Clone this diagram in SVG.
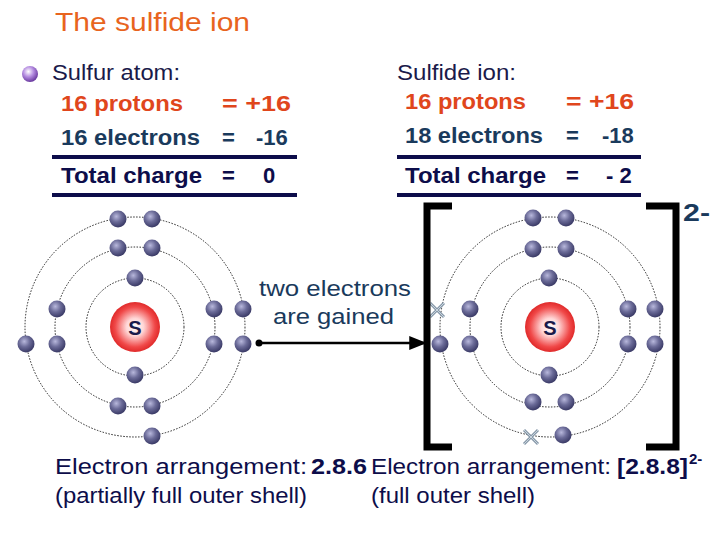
<svg xmlns="http://www.w3.org/2000/svg" width="720" height="540" viewBox="0 0 720 540">
<defs>
<radialGradient id="eg" cx="40%" cy="35%" r="65%"><stop offset="0" stop-color="#b8b8dc"/><stop offset="0.5" stop-color="#6b6b98"/><stop offset="1" stop-color="#3a3a66"/></radialGradient>
<radialGradient id="ng" cx="50%" cy="50%" r="50%"><stop offset="0" stop-color="#ffffff"/><stop offset="0.35" stop-color="#ffd6d6"/><stop offset="0.8" stop-color="#f04848"/><stop offset="1" stop-color="#e02a2a"/></radialGradient>
<radialGradient id="bg" cx="40%" cy="35%" r="65%"><stop offset="0" stop-color="#ffffff"/><stop offset="0.5" stop-color="#b48ce0"/><stop offset="1" stop-color="#6a3aa0"/></radialGradient>
<marker id="ah" viewBox="0 0 10 10" refX="9" refY="5" markerWidth="7" markerHeight="7" orient="auto"><path d="M0,1 L10,5 L0,9 Z" fill="#000"/></marker>
<g id="e"><circle r="8.5" fill="url(#eg)"/></g>
<g id="x"><path d="M-7,-7 L7,7 M-7,7 L7,-7" stroke="#8899aa" stroke-width="3"/><path d="M-7,-7 L7,7 M-7,7 L7,-7" stroke="#c8d4dc" stroke-width="1"/></g>
</defs>
<style>
text{font-family:"Liberation Sans",Arial,sans-serif}
.t{font-size:22px}
.p{fill:#e0461c;font-weight:bold}
.el{fill:#1a3a5c;font-weight:bold}
.tc{fill:#0d0d4a;font-weight:bold}
.h{fill:#1a1a4a}
.orb{fill:none;stroke:#222;stroke-width:1;stroke-dasharray:1.5 1.5}
.rule{stroke:#0d0d4a;stroke-width:4}
.br{fill:none;stroke:#000;stroke-width:7}
</style>
<text x="55" y="31" font-size="25" fill="#e8641e" textLength="195" lengthAdjust="spacingAndGlyphs">The sulfide ion</text>
<circle cx="30" cy="74" r="8" fill="url(#bg)"/>
<g id="left-text" class="t" lengthAdjust="spacingAndGlyphs">
<text x="52" y="80" class="h" textLength="128" lengthAdjust="spacingAndGlyphs">Sulfur atom:</text>
<text x="61" y="111" class="p" textLength="122" lengthAdjust="spacingAndGlyphs">16 protons</text><text x="222" y="111" class="p" textLength="69" lengthAdjust="spacingAndGlyphs">=  +16</text>
<text x="61" y="145" class="el" textLength="139" lengthAdjust="spacingAndGlyphs">16 electrons</text><text x="222" y="145" class="el">=</text><text x="256" y="145" class="el">-16</text>
<text x="61" y="183" class="tc" textLength="141" lengthAdjust="spacingAndGlyphs">Total charge</text><text x="222" y="183" class="tc">=</text><text x="263" y="183" class="tc">0</text>
</g>
<line x1="52" y1="157" x2="297" y2="157" class="rule"/>
<line x1="52" y1="195" x2="297" y2="195" class="rule"/>
<g id="right-text" class="t">
<text x="397" y="80" class="h" textLength="119" lengthAdjust="spacingAndGlyphs">Sulfide ion:</text>
<text x="405" y="109" class="p" textLength="121" lengthAdjust="spacingAndGlyphs">16 protons</text><text x="566" y="109" class="p" textLength="68" lengthAdjust="spacingAndGlyphs">=  +16</text>
<text x="405" y="143" class="el" textLength="138" lengthAdjust="spacingAndGlyphs">18 electrons</text><text x="566" y="143" class="el">=</text><text x="602" y="143" class="el">-18</text>
<text x="405" y="183" class="tc" textLength="141" lengthAdjust="spacingAndGlyphs">Total charge</text><text x="566" y="183" class="tc">=</text><text x="606" y="183" class="tc">- 2</text>
</g>
<line x1="397" y1="157" x2="641" y2="157" class="rule"/>
<line x1="397" y1="195" x2="641" y2="195" class="rule"/>
<g id="atom">
<circle cx="135" cy="327" r="49" class="orb"/><circle cx="135" cy="327" r="80" class="orb"/><circle cx="135" cy="327" r="110" class="orb"/>
<circle cx="135" cy="327" r="25" fill="url(#ng)"/>
<text x="135" y="335" font-size="20" font-weight="bold" fill="#1a1a4a" text-anchor="middle">S</text>
<use href="#e" x="135" y="278"/><use href="#e" x="135" y="375"/>
<use href="#e" x="118" y="248"/><use href="#e" x="152" y="248"/><use href="#e" x="57" y="309"/><use href="#e" x="57" y="344"/><use href="#e" x="214" y="309"/><use href="#e" x="214" y="344"/><use href="#e" x="118" y="406"/><use href="#e" x="152" y="406"/>
<use href="#e" x="118" y="219"/><use href="#e" x="152" y="219"/><use href="#e" x="26" y="344"/><use href="#e" x="243" y="309"/><use href="#e" x="243" y="344"/><use href="#e" x="152" y="436"/>
</g>
<g id="ion">
<circle cx="550" cy="327" r="49" class="orb"/><circle cx="550" cy="327" r="80" class="orb"/><circle cx="550" cy="327" r="110" class="orb"/>
<circle cx="550" cy="327" r="25" fill="url(#ng)"/>
<text x="550" y="335" font-size="20" font-weight="bold" fill="#1a1a4a" text-anchor="middle">S</text>
<use href="#e" x="549" y="278"/><use href="#e" x="549" y="375"/>
<use href="#e" x="533" y="249"/><use href="#e" x="566" y="249"/><use href="#e" x="470" y="309"/><use href="#e" x="470" y="344"/><use href="#e" x="628" y="309"/><use href="#e" x="628" y="344"/><use href="#e" x="533" y="402"/><use href="#e" x="566" y="402"/>
<use href="#e" x="533" y="218"/><use href="#e" x="566" y="218"/><use href="#x" x="437" y="310"/><use href="#e" x="440" y="344"/><use href="#e" x="655" y="309"/><use href="#e" x="655" y="344"/><use href="#x" x="531" y="437"/><use href="#e" x="563" y="435"/>
<path d="M452,206 H427 V447 H452" class="br"/>
<path d="M646,206 H676 V447 H646" class="br"/>
<text x="683" y="221" font-size="23" font-weight="bold" fill="#1a3a5c" textLength="27" lengthAdjust="spacingAndGlyphs">2-</text>
</g>
<g id="connectors">
<circle cx="259" cy="343" r="3.5" fill="#000"/>
<line x1="259" y1="343" x2="425" y2="343" stroke="#000" stroke-width="2.5" marker-end="url(#ah)"/>
</g>
<text x="259" y="296" font-size="22" fill="#1a3a5c" textLength="152" lengthAdjust="spacingAndGlyphs">two electrons</text>
<text x="273" y="324" font-size="22" fill="#1a3a5c" textLength="121" lengthAdjust="spacingAndGlyphs">are gained</text>
<g id="bottom" font-size="22" fill="#0d0d4a">
<text x="55" y="474" textLength="252" lengthAdjust="spacingAndGlyphs">Electron arrangement:</text>
<text x="311" y="474" font-weight="bold" textLength="56" lengthAdjust="spacingAndGlyphs">2.8.6</text>
<text x="55" y="503" textLength="252" lengthAdjust="spacingAndGlyphs">(partially full outer shell)</text>
<text x="371" y="474" textLength="240" lengthAdjust="spacingAndGlyphs">Electron arrangement:</text>
<text x="617" y="474" font-weight="bold" textLength="71" lengthAdjust="spacingAndGlyphs">[2.8.8]</text>
<text x="689" y="464" font-weight="bold" font-size="15">2-</text>
<text x="371" y="503" textLength="164" lengthAdjust="spacingAndGlyphs">(full outer shell)</text>
</g>
</svg>
